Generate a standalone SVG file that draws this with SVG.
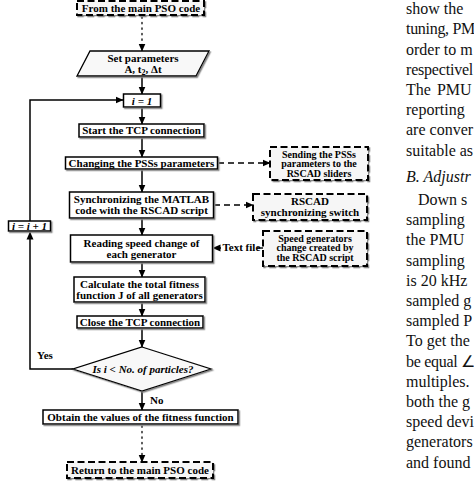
<svg xmlns="http://www.w3.org/2000/svg" width="474" height="484" viewBox="0 0 474 484">
<defs>
<filter id="sh" x="-10%" y="-20%" width="130%" height="160%"><feDropShadow dx="1.3" dy="1.3" stdDeviation="0.6" flood-color="#888"/></filter>
<marker id="arr" markerWidth="8" markerHeight="8" refX="7.5" refY="4" orient="auto" markerUnits="userSpaceOnUse"><path d="M0,0.5 L8,4 L0,7.5 z" fill="#000"/></marker>
</defs>
<style>
.box{fill:#fff;stroke:#000;stroke-width:1.5;filter:url(#sh)}
.dbox{fill:#f6f6f6;stroke:#000;stroke-width:2;stroke-dasharray:7,3.5;filter:url(#sh)}
.shape{fill:#f8f8f8;stroke:#000;stroke-width:1.3;filter:url(#sh)}
.ln{fill:none;stroke:#000;stroke-width:1.5}
.dot{fill:none;stroke:#000;stroke-width:1.3;stroke-dasharray:1.3,4.2;stroke-linecap:round}
.dash{fill:none;stroke:#000;stroke-width:1.4;stroke-dasharray:6,4}
.t{font-family:"Liberation Serif","Times New Roman",serif;font-weight:bold;font-size:11px;text-anchor:middle;fill:#000}
.s{font-size:10px}
.it{font-style:italic}
.lab{font-family:"Liberation Serif","Times New Roman",serif;font-weight:bold;font-size:11px;fill:#000}
.p{font-family:"Liberation Serif","Times New Roman",serif;font-size:16px;fill:#111}
</style>
<rect width="474" height="484" fill="#fff"/>

<g id="connectors">
<line class="dot" x1="142" y1="17" x2="142" y2="51" marker-end="url(#arr)"/>
<line class="ln" x1="142" y1="76" x2="142" y2="94" marker-end="url(#arr)"/>
<line class="ln" x1="142" y1="107" x2="142" y2="124" marker-end="url(#arr)"/>
<line class="ln" x1="142" y1="137" x2="142" y2="157" marker-end="url(#arr)"/>
<line class="ln" x1="142" y1="169" x2="142" y2="192" marker-end="url(#arr)"/>
<line class="ln" x1="142" y1="218" x2="142" y2="235" marker-end="url(#arr)"/>
<line class="ln" x1="142" y1="262" x2="142" y2="277" marker-end="url(#arr)"/>
<line class="ln" x1="142" y1="302" x2="142" y2="316" marker-end="url(#arr)"/>
<line class="ln" x1="142" y1="328" x2="142" y2="347" marker-end="url(#arr)"/>
<line class="ln" x1="142" y1="391" x2="142" y2="410" marker-end="url(#arr)"/>
<line class="dot" x1="142" y1="426" x2="142" y2="462" marker-end="url(#arr)"/>
<polyline class="ln" points="73,369 30,369 30,232" marker-end="url(#arr)"/>
<polyline class="ln" points="30,221 30,100 123,100" marker-end="url(#arr)"/>
<line class="dash" x1="218" y1="163" x2="270" y2="163" marker-end="url(#arr)"/>
<line class="dash" x1="214" y1="205" x2="253" y2="205" marker-end="url(#arr)"/>
<line class="dash" x1="263" y1="248" x2="256" y2="248"/>
<line class="ln" x1="221" y1="248" x2="213" y2="248" marker-end="url(#arr)"/>
</g>

<g id="from-main">
<rect class="dbox" x="77" y="1" width="127" height="14"/>
<text class="t" x="141" y="11.5">From the main PSO code</text>
</g>

<g id="set-params">
<polygon class="shape" points="90,51 209,51 196,76 77,76"/>
<text class="t" x="143" y="62">Set parameters</text>
<text class="t" x="143" y="72.5">A, t<tspan font-size="8" dy="2">2</tspan><tspan dy="-2">, Δt</tspan></text>
</g>

<g id="i-init">
<rect class="box" x="123.5" y="94" width="37" height="13"/>
<text class="t it" x="142" y="104.5">i = 1</text>
</g>

<g id="start-tcp">
<rect class="box" x="79" y="124" width="125" height="13"/>
<text class="t" x="141.5" y="134">Start the TCP connection</text>
</g>

<g id="changing">
<rect class="box" x="65.5" y="157" width="152" height="12"/>
<text class="t" x="141.5" y="166.5">Changing the PSSs parameters</text>
</g>

<g id="sync">
<rect class="box" x="69.5" y="192" width="144" height="26"/>
<text class="t" x="141.5" y="202.5">Synchronizing the MATLAB</text>
<text class="t" x="141.5" y="214">code with the RSCAD script</text>
</g>

<g id="reading">
<rect class="box" x="70.5" y="235" width="142" height="27"/>
<text class="t" x="141.5" y="246.5">Reading speed change of</text>
<text class="t" x="141.5" y="257.5">each generator</text>
</g>

<g id="calculate">
<rect class="box" x="74" y="277" width="131" height="25"/>
<text class="t" x="139.5" y="287.5">Calculate the total fitness</text>
<text class="t" x="139.5" y="298.5">function J of all generators</text>
</g>

<g id="close-tcp">
<rect class="box" x="77" y="316" width="126" height="12"/>
<text class="t" x="140" y="325.5">Close the TCP connection</text>
</g>

<g id="decision">
<polygon class="shape" points="142,347 211,369 142,391 73,369"/>
<text class="t it" x="143" y="372.5">Is i &lt; No. of particles?</text>
</g>

<g id="i-incr">
<rect class="box" x="8.5" y="221" width="42" height="10"/>
<text class="t it" x="29.5" y="229.5" font-size="10">i = i + 1</text>
</g>

<g id="labels">
<text class="lab" x="37" y="359">Yes</text>
<text class="lab" x="150" y="404">No</text>
<rect x="222" y="242" width="33" height="10" fill="#fff"/>
<text class="lab" x="222.5" y="251" font-size="9">Text file</text>
</g>

<g id="obtain">
<rect class="box" x="43" y="410" width="195" height="14"/>
<text class="t" x="140.5" y="421">Obtain the values of the fitness function</text>
</g>

<g id="return-main">
<rect class="dbox" x="67" y="462" width="146" height="16"/>
<text class="t" x="140" y="473.5">Return to the main PSO code</text>
</g>

<g id="sending">
<rect class="dbox" x="270" y="147" width="98" height="33"/>
<text class="t s" x="319" y="157.5">Sending the PSSs</text>
<text class="t s" x="319" y="167">parameters to the</text>
<text class="t s" x="319" y="176.5">RSCAD sliders</text>
</g>

<g id="rscad-switch">
<rect class="dbox" x="253" y="194" width="114" height="26"/>
<text class="t" x="310" y="205">RSCAD</text>
<text class="t" x="310" y="215.5">synchronizing switch</text>
</g>

<g id="speed-file">
<rect class="dbox" x="263" y="231" width="104" height="35"/>
<text class="t s" x="315" y="241.5">Speed generators</text>
<text class="t s" x="315" y="251">change created by</text>
<text class="t s" x="315" y="260.5">the RSCAD script</text>
</g>

<g id="page-text">
<text class="p" x="406" y="14">show the</text>
<text class="p" x="406" y="34" letter-spacing="-0.3">tuning, PM</text>
<text class="p" x="406" y="54.5">order to m</text>
<text class="p" x="406" y="74.5" letter-spacing="-0.2">respectivel</text>
<text class="p" x="406" y="95" word-spacing="2">The PMU</text>
<text class="p" x="406" y="115">reporting</text>
<text class="p" x="406" y="135">are conver</text>
<text class="p" x="406" y="155.5">suitable as</text>
<text class="p" x="406" y="182" font-style="italic">B. Adjustr</text>
<text class="p" x="418" y="205">Down s</text>
<text class="p" x="406" y="225">sampling</text>
<text class="p" x="406" y="245.3">the PMU</text>
<text class="p" x="406" y="265.5">sampling</text>
<text class="p" x="406" y="285.7">is 20 kHz</text>
<text class="p" x="406" y="306">sampled g</text>
<text class="p" x="406" y="326">sampled P</text>
<text class="p" x="406" y="346.3">To get the</text>
<text class="p" x="406" y="366.5" letter-spacing="-0.3">be equal ∠</text>
<text class="p" x="406" y="386.7">multiples.</text>
<text class="p" x="406" y="407">both the g</text>
<text class="p" x="406" y="427">speed devi</text>
<text class="p" x="406" y="447.3">generators</text>
<text class="p" x="406" y="467.5">and found</text>
</g>
</svg>
